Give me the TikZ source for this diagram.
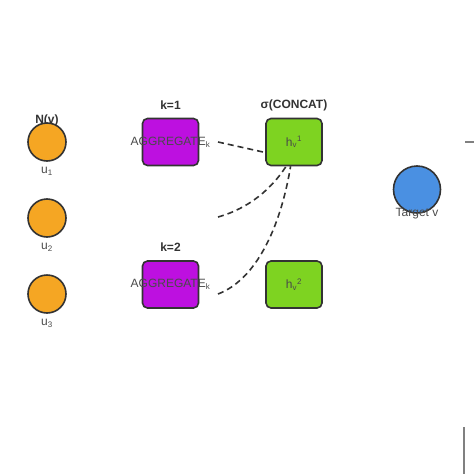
\documentclass[tikz,border=0pt]{standalone}
\usepackage{fontspec}
\setmainfont{Liberation Sans}
\usepackage{tikz}
\usetikzlibrary{positioning}
\definecolor{nodeorange}{HTML}{F5A623}
\definecolor{aggpurple}{HTML}{BD10E0}
\definecolor{hgreen}{HTML}{7ED321}
\definecolor{targetblue}{HTML}{4A90E2}
\definecolor{edgegray}{HTML}{333333}
\definecolor{textgray}{HTML}{4A4A4A}
\tikzset{
  neighbor/.style  = {circle, draw=edgegray, line width=1.6pt, fill=nodeorange, minimum size=38pt, inner sep=0pt},
  aggbox/.style    = {rectangle, rounded corners=5pt, draw=edgegray, line width=1.6pt, fill=aggpurple, minimum width=56pt, minimum height=47pt},
  hbox/.style      = {aggbox, fill=hgreen},
  targetnode/.style= {circle, draw=edgegray, line width=1.6pt, fill=targetblue, minimum size=47pt, inner sep=0pt},
  txt/.style       = {font=\fontsize{12}{14}\selectfont, text=textgray, inner sep=0pt},
  heading/.style   = {font=\fontsize{12}{14}\selectfont\bfseries, text=edgegray, inner sep=0pt},
  conn/.style      = {line width=1.6pt, draw=edgegray, dash pattern=on 6pt off 4pt},
  stub/.style      = {line width=1.8pt, draw=gray}
}

\begin{document}
\begin{tikzpicture}[x=1pt, y=-1pt]
        \useasboundingbox (0,0) rectangle (474,474);
        % neighbours
        \node[heading]  (nv)  at (47,120)  {N(v)};
        \node[neighbor] (u1)  at (47,142)  {};
        \node[neighbor] (u2)  at (47,218)  {};
        \node[neighbor] (u3)  at (47,294)  {};
        \node[txt]      (u1l) at (47,171)  {u\textsubscript{1}};
        \node[txt]      (u2l) at (47,247)  {u\textsubscript{2}};
        \node[txt]      (u3l) at (47,323)  {u\textsubscript{3}};
        % aggregators
        \node[heading]  (k1)  at (170.5,105) {k=1};
        \node[heading]  (k2)  at (170.5,247) {k=2};
        \node[aggbox]   (a1)  at (170.5,142) {};
        \node[aggbox]   (a2)  at (170.5,284.5) {};
        \node[txt]      (a1l) at (170.5,142) {AGGREGATE\textsubscript{k}};
        \node[txt]      (a2l) at (170.5,284.5) {AGGREGATE\textsubscript{k}};
        % concat
        \node[heading]  (sc)  at (294,105) {σ(CONCAT)};
        \node[hbox]     (h1)  at (294,142) {};
        \node[hbox]     (h2)  at (294,284.5) {};
        \node[txt]      (h1l) at (294,142) {h\textsubscript{v}\textsuperscript{1}};
        \node[txt]      (h2l) at (294,284.5) {h\textsubscript{v}\textsuperscript{2}};
        % target
        \node[targetnode] (tv)  at (417,189.5) {};
        \node[txt]        (tvl) at (417,214) {Target v};
        % dashed links
        \coordinate (s1) at (218,142);
        \coordinate (s2) at (218,217);
        \coordinate (s3) at (218,294);
        \draw[conn] (s1) -- (h1.200);
        \draw[conn] (s2) .. controls (250,208) and (272,188) .. (h1.-108);
        \draw[conn] (s3) .. controls (255,280) and (280,230) .. (h1.-98);
        % cut-off edges
        \coordinate (ra) at (465,142);
        \coordinate (rb) at (474,142);
        \coordinate (va) at (464,427);
        \coordinate (vb) at (464,474);
        \draw[stub] (ra) -- (rb);
        \draw[stub] (va) -- (vb);
      \end{tikzpicture}
\end{document}
